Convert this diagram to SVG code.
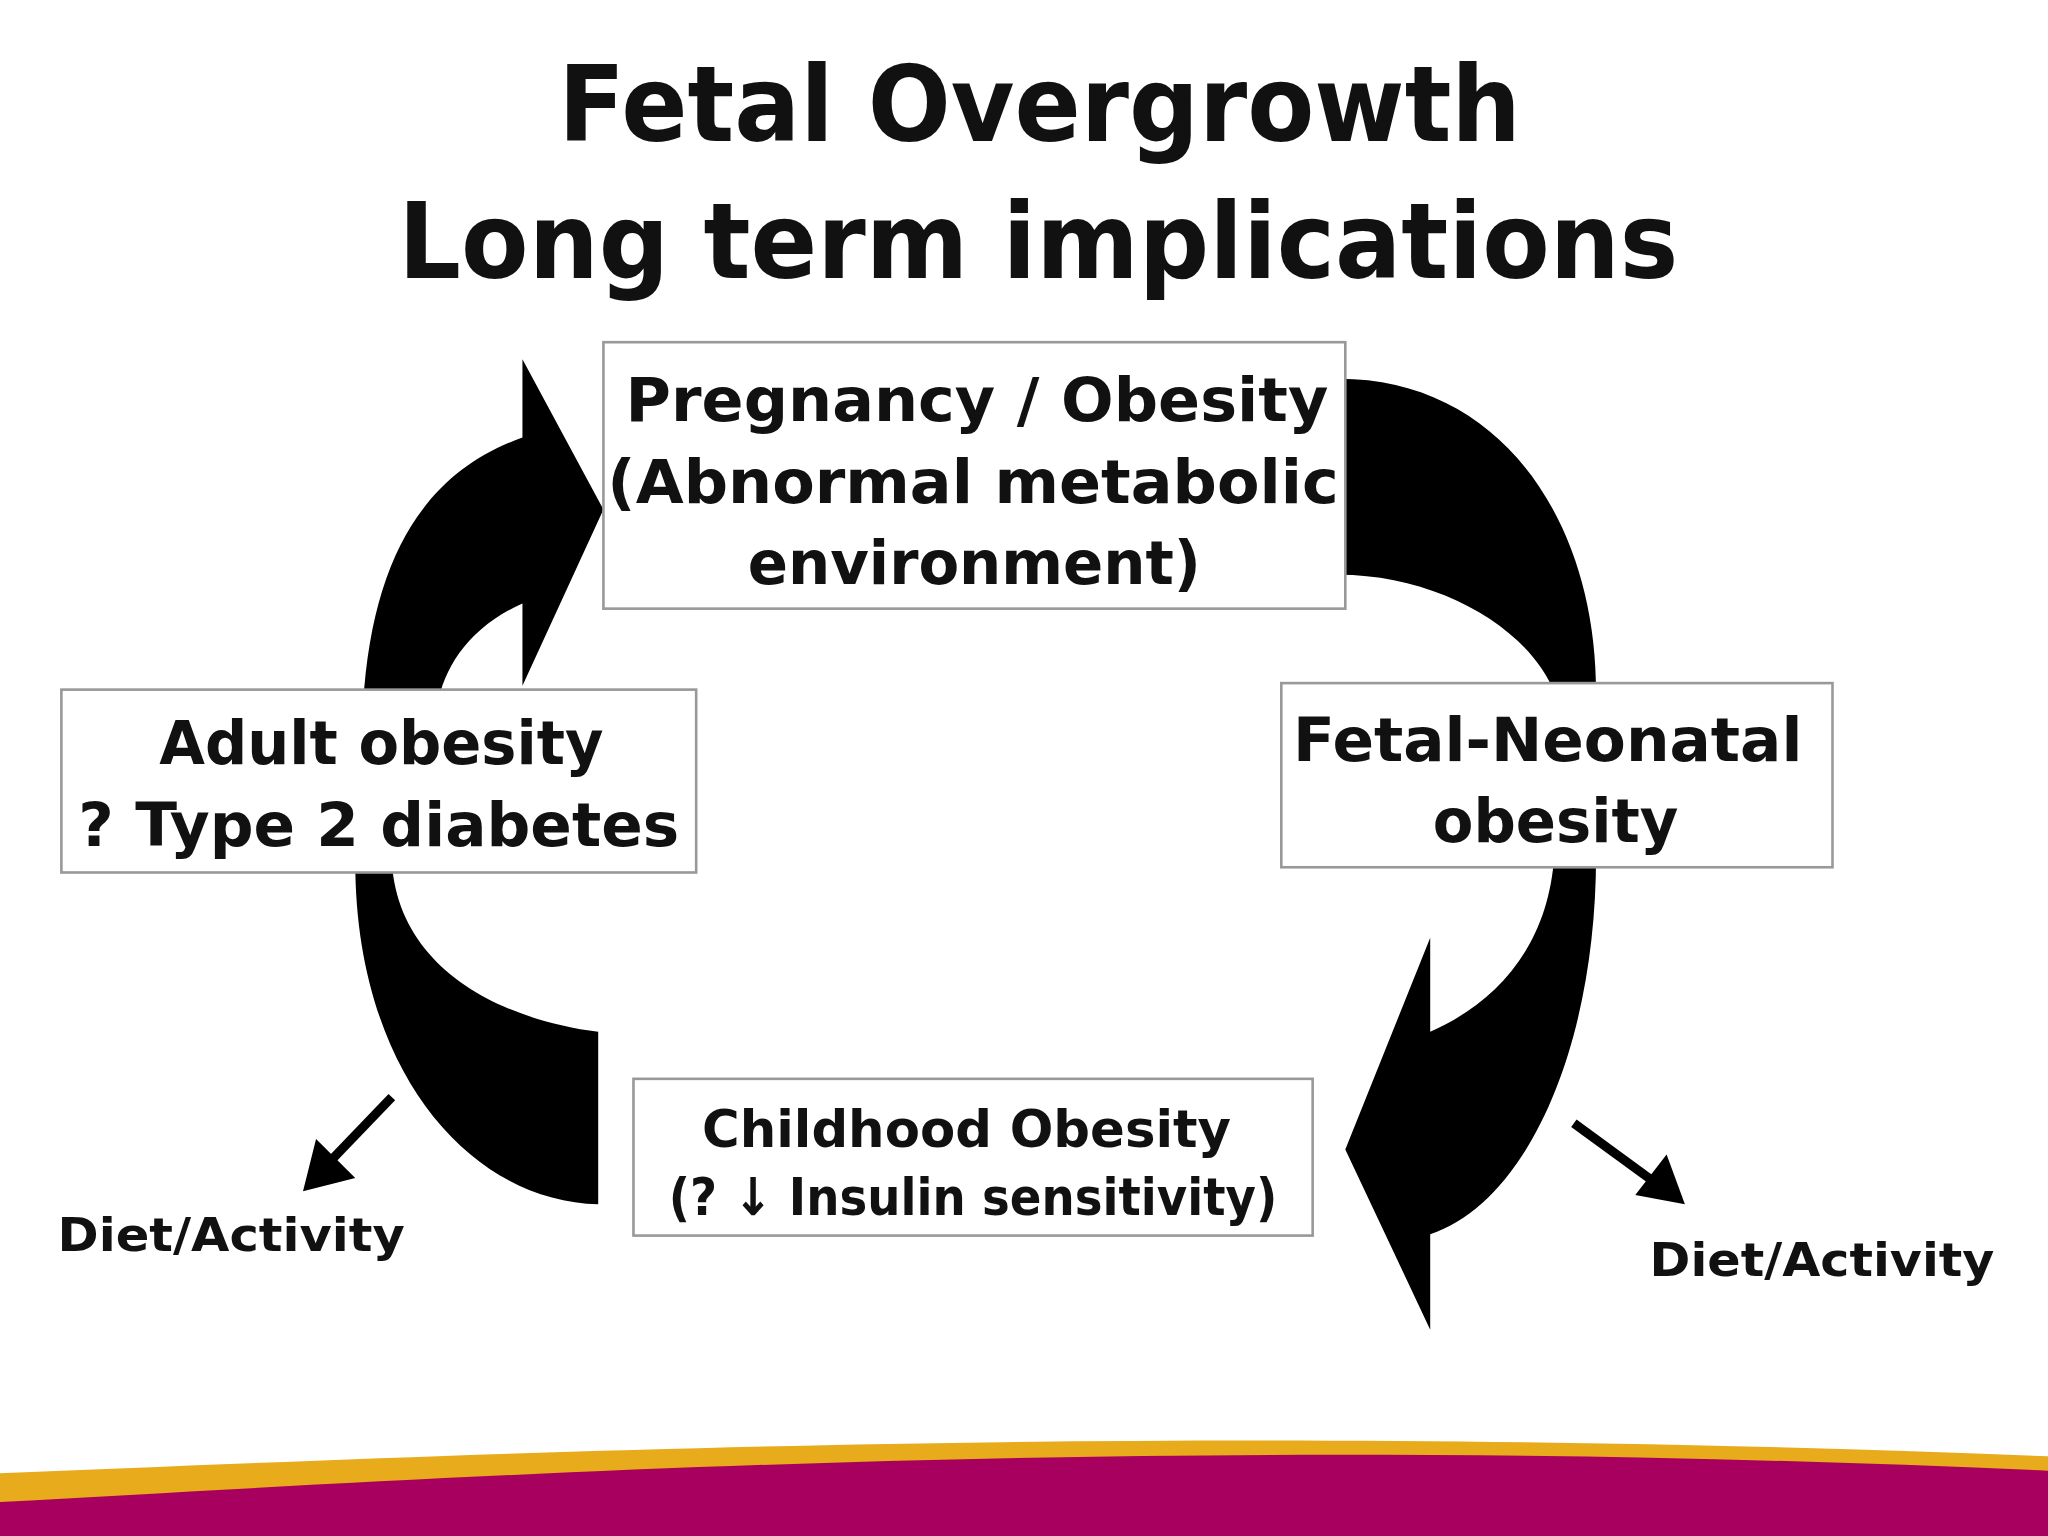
<svg xmlns="http://www.w3.org/2000/svg" width="2048" height="1536" viewBox="0 0 2048 1536">
<style>
text{font-family:"DejaVu Sans","Liberation Sans",sans-serif;font-weight:bold;fill:#111;text-anchor:middle}
.t{font-size:80px}
.b{font-size:46px}
.s{font-size:40px}
.d{font-size:36px}
.box{fill:#fff;stroke:#999;stroke-width:2}
.arr{fill:#000}
</style>
<rect width="2048" height="1536" fill="#fff"/>
<g transform="scale(1.30612)">
<g id="title">
<text class="t" x="796" y="108" textLength="737" lengthAdjust="spacingAndGlyphs">Fetal Overgrowth</text>
<text class="t" x="795" y="213" textLength="980" lengthAdjust="spacingAndGlyphs">Long term implications</text>
</g>
<g id="connectors">
<path class="arr" d="M278,540 C285,420 330,360 400,335 L400,275 L462,390 L400,525 L400,462 C360,480 340,510 335,540 Z"/>
<path class="arr" d="M272,660 C272,820 360,920 458,922 L458,790 C380,780 305,740 300,660 Z"/>
<path class="arr" d="M1025,290 C1150,290 1222,400 1222,530 L1190,530 C1170,480 1100,440 1025,440 Z"/>
<path class="arr" d="M1222,655 C1222,800 1170,920 1095,945 L1095,1018 L1030,880 L1095,718 L1095,790 C1140,770 1185,730 1190,655 Z"/>
<line x1="300" y1="840" x2="250" y2="892" stroke="#000" stroke-width="7"/>
<polygon class="arr" points="232,912 242,872 272,902"/>
<line x1="1205" y1="860" x2="1268" y2="906" stroke="#000" stroke-width="7"/>
<polygon class="arr" points="1290,922 1252,915 1276,884"/>
</g>
<g id="n1"><rect class="box" x="462" y="262" width="568" height="204"/>
<text class="b" x="748" y="322" textLength="538" lengthAdjust="spacingAndGlyphs">Pregnancy / Obesity</text>
<text class="b" x="745" y="385" textLength="560" lengthAdjust="spacingAndGlyphs">(Abnormal metabolic</text>
<text class="b" x="746" y="447" textLength="347" lengthAdjust="spacingAndGlyphs">environment)</text></g>
<g id="n2"><rect class="box" x="47" y="528" width="486" height="140"/>
<text class="b" x="292" y="585" textLength="340" lengthAdjust="spacingAndGlyphs">Adult obesity</text>
<text class="b" x="290" y="648" textLength="460" lengthAdjust="spacingAndGlyphs">? Type 2 diabetes</text></g>
<g id="n3"><rect class="box" x="981" y="523" width="422" height="141"/>
<text class="b" x="1185" y="583" textLength="390" lengthAdjust="spacingAndGlyphs">Fetal-Neonatal</text>
<text class="b" x="1191" y="645" textLength="188" lengthAdjust="spacingAndGlyphs">obesity</text></g>
<g id="n4"><rect class="box" x="485" y="826" width="520" height="120"/>
<text class="s" x="740" y="878" textLength="405" lengthAdjust="spacingAndGlyphs">Childhood Obesity</text>
<text class="s" x="745" y="930" textLength="466" lengthAdjust="spacingAndGlyphs">(? ↓ Insulin sensitivity)</text></g>
<g id="d1"><text class="d" x="177" y="958" textLength="266" lengthAdjust="spacingAndGlyphs">Diet/Activity</text></g>
<g id="d2"><text class="d" x="1395" y="977" textLength="264" lengthAdjust="spacingAndGlyphs">Diet/Activity</text></g>
<g id="wave">
<path d="M0,1128 C400,1112 900,1088 1568,1115 L1568,1176 L0,1176 Z" fill="#e8ab1c"/>
<path d="M0,1150 C400,1128 900,1096 1568,1126 L1568,1176 L0,1176 Z" fill="#a8005e"/>
</g>
</g>
</svg>
